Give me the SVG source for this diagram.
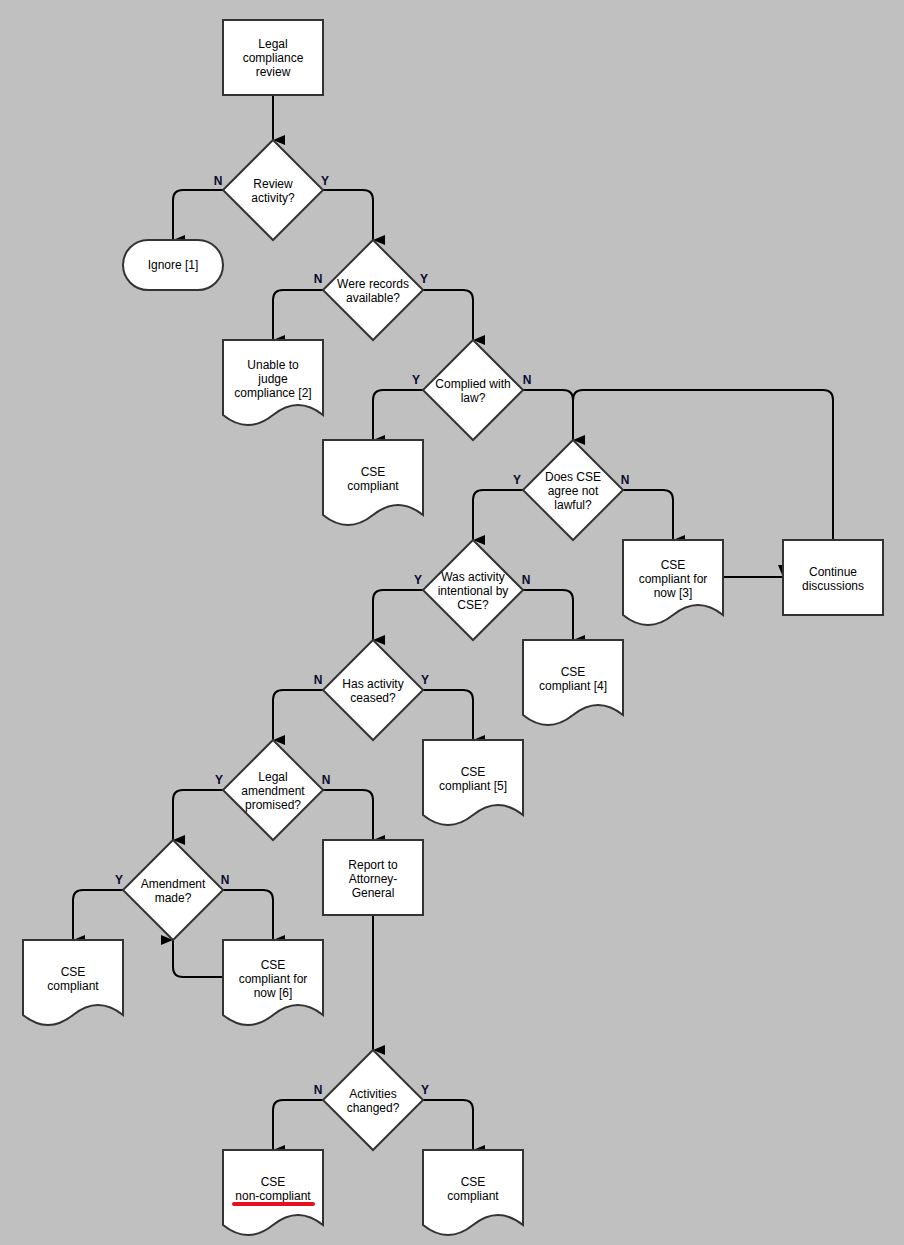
<svg xmlns="http://www.w3.org/2000/svg" width="904" height="1245" viewBox="0 0 904 1245">
<defs>
<marker id="ar" markerWidth="10" markerHeight="12" refX="5" refY="12" orient="auto-start-reverse" markerUnits="userSpaceOnUse" viewBox="0 0 10 12"><path d="M0,0 L10,0 L5,12 Z" fill="#000"/></marker>
<style>
.s{fill:#fff;stroke:#333;stroke-width:2}
.t{font-family:"Liberation Sans",Arial,sans-serif;font-size:12px;fill:#000;text-anchor:middle}
.l{font-family:"Liberation Sans",Arial,sans-serif;font-size:12px;font-weight:bold;fill:#0a0a30;text-anchor:middle}
.c{fill:none;stroke:#000;stroke-width:2}
.a{marker-end:url(#ar)}
</style>
</defs>
<rect width="904" height="1245" fill="#c0c0c0"/>
<g id="connectors">
<path class="c a" d="M273,95 V140"/>
<path class="c a" d="M223,190 H183 Q173,190 173,200 V240"/>
<path class="c a" d="M323,190 H363 Q373,190 373,200 V240"/>
<path class="c a" d="M323,290 H283 Q273,290 273,300 V340"/>
<path class="c a" d="M423,290 H463 Q473,290 473,300 V340"/>
<path class="c a" d="M423,390 H383 Q373,390 373,400 V440"/>
<path class="c a" d="M523,390 H563 Q573,390 573,400 V440"/>
<path class="c" d="M833,540 V400 Q833,390 823,390 H583 Q573,390 573,400"/>
<path class="c a" d="M523,490 H483 Q473,490 473,500 V540"/>
<path class="c a" d="M623,490 H663 Q673,490 673,500 V540"/>
<path class="c a" d="M723,577 H783"/>
<path class="c a" d="M423,590 H383 Q373,590 373,600 V640"/>
<path class="c a" d="M523,590 H563 Q573,590 573,600 V640"/>
<path class="c a" d="M323,690 H283 Q273,690 273,700 V740"/>
<path class="c a" d="M423,690 H463 Q473,690 473,700 V740"/>
<path class="c a" d="M223,790 H183 Q173,790 173,800 V840"/>
<path class="c a" d="M323,790 H363 Q373,790 373,800 V840"/>
<path class="c a" d="M123,890 H83 Q73,890 73,900 V940"/>
<path class="c a" d="M223,890 H263 Q273,890 273,900 V940"/>
<path class="c a" d="M223,977 H183 Q173,977 173,967 V940"/>
<path class="c a" d="M373,915 V1050"/>
<path class="c a" d="M323,1100 H283 Q273,1100 273,1110 V1150"/>
<path class="c a" d="M423,1100 H463 Q473,1100 473,1110 V1150"/>
<text class="l" x="218" y="185">N</text><text class="l" x="325" y="185">Y</text>
<text class="l" x="318" y="283">N</text><text class="l" x="424" y="283">Y</text>
<text class="l" x="416" y="384">Y</text><text class="l" x="527" y="384">N</text>
<text class="l" x="517" y="484">Y</text><text class="l" x="625" y="484">N</text>
<text class="l" x="418" y="584">Y</text><text class="l" x="526" y="584">N</text>
<text class="l" x="318" y="684">N</text><text class="l" x="425" y="684">Y</text>
<text class="l" x="219" y="784">Y</text><text class="l" x="326" y="784">N</text>
<text class="l" x="119" y="884">Y</text><text class="l" x="225" y="884">N</text>
<text class="l" x="318" y="1094">N</text><text class="l" x="425" y="1094">Y</text>
</g>
<g id="start"><rect class="s" x="223" y="20" width="100" height="75"/><text class="t" x="273" y="48">Legal</text><text class="t" x="273" y="62">compliance</text><text class="t" x="273" y="76">review</text></g>
<g id="d1"><path class="s" d="M273,140 L323,190 L273,240 L223,190 Z"/><text class="t" x="273" y="188">Review</text><text class="t" x="273" y="202">activity?</text></g>
<g id="ignore"><rect class="s" x="123" y="240" width="100" height="50" rx="25"/><text class="t" x="173" y="269">Ignore [1]</text></g>
<g id="d2"><path class="s" d="M373,240 L423,290 L373,340 L323,290 Z"/><text class="t" x="373" y="288">Were records</text><text class="t" x="373" y="302">available?</text></g>
<g id="doc2"><path class="s" d="M223,340 H323 V415 Q298,395 273,415 Q248,435 223,415 Z"/><text class="t" x="273" y="369">Unable to</text><text class="t" x="273" y="383">judge</text><text class="t" x="273" y="397">compliance [2]</text></g>
<g id="d3"><path class="s" d="M473,340 L523,390 L473,440 L423,390 Z"/><text class="t" x="473" y="388">Complied with</text><text class="t" x="473" y="402">law?</text></g>
<g id="docA"><path class="s" d="M323,440 H423 V515 Q398,495 373,515 Q348,535 323,515 Z"/><text class="t" x="373" y="476">CSE</text><text class="t" x="373" y="490">compliant</text></g>
<g id="d4"><path class="s" d="M573,440 L623,490 L573,540 L523,490 Z"/><text class="t" x="573" y="481">Does CSE</text><text class="t" x="573" y="495">agree not</text><text class="t" x="573" y="509">lawful?</text></g>
<g id="doc3"><path class="s" d="M623,540 H723 V615 Q698,595 673,615 Q648,635 623,615 Z"/><text class="t" x="673" y="569">CSE</text><text class="t" x="673" y="583">compliant for</text><text class="t" x="673" y="597">now [3]</text></g>
<g id="cont"><rect class="s" x="783" y="540" width="100" height="75"/><text class="t" x="833" y="576">Continue</text><text class="t" x="833" y="590">discussions</text></g>
<g id="d5"><path class="s" d="M473,540 L523,590 L473,640 L423,590 Z"/><text class="t" x="473" y="581">Was activity</text><text class="t" x="473" y="595">intentional by</text><text class="t" x="473" y="609">CSE?</text></g>
<g id="doc4"><path class="s" d="M523,640 H623 V715 Q598,695 573,715 Q548,735 523,715 Z"/><text class="t" x="573" y="676">CSE</text><text class="t" x="573" y="690">compliant [4]</text></g>
<g id="d6"><path class="s" d="M373,640 L423,690 L373,740 L323,690 Z"/><text class="t" x="373" y="688">Has activity</text><text class="t" x="373" y="702">ceased?</text></g>
<g id="doc5"><path class="s" d="M423,740 H523 V815 Q498,795 473,815 Q448,835 423,815 Z"/><text class="t" x="473" y="776">CSE</text><text class="t" x="473" y="790">compliant [5]</text></g>
<g id="d7"><path class="s" d="M273,740 L323,790 L273,840 L223,790 Z"/><text class="t" x="273" y="781">Legal</text><text class="t" x="273" y="795">amendment</text><text class="t" x="273" y="809">promised?</text></g>
<g id="report"><rect class="s" x="323" y="840" width="100" height="75"/><text class="t" x="373" y="869">Report to</text><text class="t" x="373" y="883">Attorney-</text><text class="t" x="373" y="897">General</text></g>
<g id="d8"><path class="s" d="M173,840 L223,890 L173,940 L123,890 Z"/><text class="t" x="173" y="888">Amendment</text><text class="t" x="173" y="902">made?</text></g>
<g id="docB"><path class="s" d="M23,940 H123 V1015 Q98,995 73,1015 Q48,1035 23,1015 Z"/><text class="t" x="73" y="976">CSE</text><text class="t" x="73" y="990">compliant</text></g>
<g id="doc6"><path class="s" d="M223,940 H323 V1015 Q298,995 273,1015 Q248,1035 223,1015 Z"/><text class="t" x="273" y="969">CSE</text><text class="t" x="273" y="983">compliant for</text><text class="t" x="273" y="997">now [6]</text></g>
<g id="d9"><path class="s" d="M373,1050 L423,1100 L373,1150 L323,1100 Z"/><text class="t" x="373" y="1098">Activities</text><text class="t" x="373" y="1112">changed?</text></g>
<g id="docNC"><path class="s" d="M223,1150 H323 V1225 Q298,1205 273,1225 Q248,1245 223,1225 Z"/><text class="t" x="273" y="1186">CSE</text><text class="t" x="273" y="1200">non-compliant</text><line x1="234" y1="1204" x2="313" y2="1204" stroke="#e8101e" stroke-width="4" stroke-linecap="round"/></g>
<g id="docC"><path class="s" d="M423,1150 H523 V1225 Q498,1205 473,1225 Q448,1245 423,1225 Z"/><text class="t" x="473" y="1186">CSE</text><text class="t" x="473" y="1200">compliant</text></g>
</svg>
